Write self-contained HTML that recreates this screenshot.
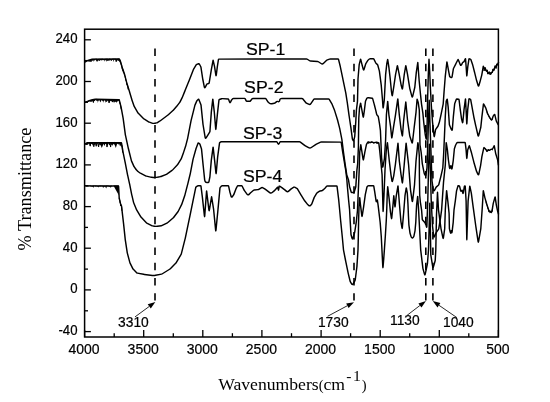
<!DOCTYPE html>
<html><head><meta charset="utf-8"><title>FTIR spectra</title>
<style>
html,body{margin:0;padding:0;background:#fff;}
body{width:550px;height:402px;overflow:hidden;}
svg{display:block;}
.sans{font-family:"Liberation Sans",Arial,Helvetica,sans-serif;fill:#000;stroke:#000;stroke-width:0.2;}
.serif{font-family:"Liberation Serif","Times New Roman",serif;fill:#000;}
.curve{fill:none;stroke:#000;stroke-width:1.45;stroke-linejoin:round;stroke-linecap:round;}
.noise polyline{fill:none;stroke:#000;stroke-width:1.0;stroke-linejoin:miter;}
.dash{stroke:#000;stroke-width:1.6;stroke-dasharray:7.5 7.8;fill:none;}
</style></head><body>
<svg width="550" height="402" viewBox="0 0 550 402">
<rect x="0" y="0" width="550" height="402" fill="#fff"/>
<!-- curves -->
<path class="curve" d="M84.8,62L86.60,61.02Q87,60.8 87.43,60.66L89.57,59.94Q90,59.8 90.43,59.68L92.07,59.22Q92.5,59.1 92.95,59.10L118.85,59.00Q119.3,59 119.52,59.39L119.98,60.21Q120.2,60.6 120.32,61.03L121.68,65.77Q121.8,66.2 121.94,66.63L124.46,74.07Q124.6,74.5 124.71,74.94L126.69,82.56Q126.8,83 126.93,83.43L129.47,91.57Q129.6,92 129.73,92.43L131.67,99.07Q131.8,99.5 131.94,99.93L133.86,105.57Q134,106 134.22,106.39L137.78,112.61Q138,113 138.32,113.32L143.68,118.68Q144,119 144.39,119.23L148.61,121.77Q149,122 149.42,122.15L151.99,123.06Q153.5,123.6 155.06,123.24L156.56,122.90Q157,122.8 157.39,122.57L159.61,121.23Q160,121 160.36,120.73L167.64,115.27Q168,115 168.33,114.70L172.67,110.80Q173,110.5 173.30,110.16L176.70,106.34Q177,106 177.27,105.64L179.73,102.36Q180,102 180.20,101.60L182.30,97.40Q182.5,97 182.67,96.58L184.83,91.12Q185,90.7 185.17,90.28L188.83,81.32Q189,80.9 189.16,80.48L193.24,70.02Q193.4,69.6 193.63,69.21L196.17,64.99Q196.4,64.6 196.82,64.44L198.68,63.76Q199.1,63.6 199.32,64.00L200.68,66.50Q200.9,66.9 200.97,67.34L202.63,78.36Q202.7,78.8 202.79,79.24L204.29,86.93Q204.6,88.5 205.33,87.08L206.70,84.40Q206.9,84 207.33,83.86L208.67,83.44Q209.1,83.3 209.17,82.86L211.23,70.34Q211.3,69.9 211.38,69.46L213.02,60.54Q213.1,60.1 213.20,60.54L214.50,66.46Q214.6,66.9 214.67,67.34L215.86,75.02Q216.1,76.6 216.30,75.01L217.24,67.35Q217.3,66.9 217.37,66.46L218.43,59.54Q218.5,59.1 218.95,59.10L306.55,59.00Q307,59 307.37,59.25L309.63,60.75Q310,61 310.45,61.03L317.55,61.47Q318,61.5 318.38,61.75L321.06,63.52Q322.4,64.4 323.56,63.29L326.67,60.31Q327,60 327.43,59.86L329.57,59.14Q330,59 330.45,59.00L337.95,59.00Q338.4,59 338.51,59.44L339.99,65.26Q340.1,65.7 340.19,66.14L342.81,78.66Q342.9,79.1 342.99,79.54L345.61,92.06Q345.7,92.5 345.77,92.94L347.33,102.96Q347.4,103.4 347.46,103.85L349.04,115.35Q349.1,115.8 349.17,116.24L350.73,126.56Q350.8,127 350.86,127.45L352.34,138.55Q352.4,139 352.58,139.41L352.95,140.25Q353.5,141.5 353.89,139.95L354.59,137.14Q354.7,136.7 354.73,136.25L355.17,130.45Q355.2,130 355.23,129.55L355.77,121.85Q355.8,121.4 355.82,120.95L356.38,110.65Q356.4,110.2 356.45,109.75L357.45,101.65Q357.5,101.2 357.51,100.75L357.99,79.45Q358,79 358.04,78.55L359.16,65.05Q359.2,64.6 359.31,64.16L360.49,59.44Q360.6,59 360.71,59.44L361.89,64.16Q362,64.6 362.11,65.04L363.19,69.15Q363.6,70.7 364.08,69.17L365.76,63.83Q365.9,63.4 366.14,63.02L367.86,60.38Q368.1,60 368.46,59.73L369.44,58.97Q369.8,58.7 370.25,58.70L373.25,58.70Q373.7,58.7 373.90,59.10L375.80,63.00Q376,63.4 376.36,63.67L377.24,64.33Q377.6,64.6 377.72,65.03L379.28,70.67Q379.4,71.1 379.46,71.55L381.14,84.35Q381.2,84.8 381.24,85.25L382.46,99.55Q382.5,100 382.53,100.45L382.99,107.10Q383.1,108.7 383.32,107.12L384.24,100.45Q384.3,100 384.32,99.55L385.58,75.35Q385.6,74.9 385.65,74.45L386.75,64.15Q386.8,63.7 386.89,63.26L387.61,59.74Q387.7,59.3 387.77,59.75L388.83,66.95Q388.9,67.4 388.95,67.85L390.15,78.15Q390.2,78.6 390.24,79.05L391.36,90.55Q391.4,91 391.46,91.45L391.97,95.02Q392.2,96.6 392.45,95.02L393.63,87.74Q393.7,87.3 393.76,86.85L395.44,75.35Q395.5,74.9 395.59,74.46L397.31,65.94Q397.4,65.5 397.49,65.94L399.21,74.46Q399.3,74.9 399.38,75.34L401.02,84.36Q401.1,84.8 401.21,85.24L402.00,88.25Q402.4,89.8 402.59,88.21L404.15,75.35Q404.2,74.9 404.28,74.46L405.72,65.94Q405.8,65.5 405.88,65.94L407.52,74.46Q407.6,74.9 407.67,75.34L409.73,88.16Q409.8,88.6 409.92,89.03L411.88,96.35Q412.3,97.9 412.67,96.34L414.70,87.74Q414.8,87.3 414.85,86.85L416.25,72.85Q416.3,72.4 416.37,71.95L417.73,62.75Q417.8,62.3 417.83,62.75L419.07,79.55Q419.1,80 419.14,80.45L420.46,94.05Q420.5,94.5 420.55,94.95L421.45,103.45Q421.5,103.9 421.57,104.35L422.83,112.95Q422.9,113.4 422.94,113.85L423.76,122.55Q423.8,123 423.86,123.45L425.24,134.55Q425.3,135 425.39,135.44L425.99,138.43Q426.3,140 426.41,138.40L426.97,130.45Q427,130 427.01,129.55L427.59,100.45Q427.6,100 427.61,99.55L428.29,75.45Q428.3,75 428.32,74.55L428.98,59.45Q429,59 429.02,59.45L429.68,71.55Q429.7,72 429.72,72.45L430.38,87.55Q430.4,88 430.42,88.45L431.28,104.55Q431.3,105 431.33,105.45L432.47,121.55Q432.5,122 432.55,122.45L434.03,135.91Q434.2,137.5 434.48,135.92L435.52,129.94Q435.6,129.5 435.86,129.13L437.74,126.47Q438,126.1 438.15,125.67L439.25,122.43Q439.4,122 439.50,121.56L441.20,113.84Q441.3,113.4 441.39,112.96L443.11,104.34Q443.2,103.9 443.23,103.45L444.07,91.65Q444.1,91.2 444.14,90.75L445.26,76.55Q445.3,76.1 445.35,75.65L446.85,62.25Q446.9,61.8 446.98,62.24L448.32,69.46Q448.4,69.9 448.48,70.34L449.62,76.26Q449.7,76.7 450.09,76.93L450.80,77.35Q451.9,78 452.15,76.42L453.33,69.04Q453.4,68.6 453.60,68.20L455.70,64.10Q455.9,63.7 456.10,63.30L457.90,59.70Q458.1,59.3 458.27,59.72L459.43,62.58Q459.6,63 459.77,63.41L460.28,64.62Q460.9,66.1 461.60,64.66L462.50,62.80Q462.7,62.4 463.11,62.21L463.59,61.99Q464,61.8 464.18,61.39L465.32,58.81Q465.5,58.4 465.53,58.85L466.17,66.95Q466.2,67.4 466.23,67.85L466.70,75.10Q466.8,76.7 466.95,75.11L467.66,67.85Q467.7,67.4 467.77,66.95L468.93,59.15Q469,58.7 469.43,58.84L470.37,59.16Q470.8,59.3 470.94,59.73L472.56,64.47Q472.7,64.9 472.81,65.34L474.49,71.96Q474.6,72.4 474.71,72.84L476.29,79.36Q476.4,79.8 476.53,80.23L478.03,85.17Q478.5,86.7 478.96,85.17L480.07,81.53Q480.2,81.1 480.31,80.66L481.69,75.34Q481.8,74.9 481.88,74.46L483.22,66.54Q483.3,66.1 483.44,66.53L483.75,67.50Q484.2,68.9 484.65,68.25L484.84,67.97Q485.1,67.6 485.22,68.04L485.59,69.45Q486,71 486.50,70.55L486.67,70.40Q487,70.1 487.14,70.53L487.51,71.68Q488,73.2 488.75,72.60L489.15,72.28Q489.5,72 489.67,72.42L489.95,73.10Q490.4,74.2 490.85,73.30L491.10,72.80Q491.3,72.4 491.75,72.45L491.75,72.45Q492.2,72.5 492.63,70.96L493.08,69.33Q493.2,68.9 493.40,69.30L493.60,69.70Q494,70.5 494.36,68.94L495.00,66.24Q495.1,65.8 495.31,66.20L495.55,66.65Q496,67.5 496.39,65.95L496.79,64.34Q496.9,63.9 497.16,64.26L497.30,64.45Q497.7,65 498.10,63.70L498.5,62.4"/>
<path class="curve" d="M84.8,102.3L87.57,101.35Q88,101.2 88.43,101.06L91.57,100.04Q92,99.9 92.44,99.80L95.26,99.20Q95.7,99.1 96.15,99.11L118.75,99.79Q119.2,99.8 119.31,100.24L120.89,106.36Q121,106.8 121.08,107.24L123.02,117.56Q123.1,118 123.16,118.45L125.34,134.55Q125.4,135 125.50,135.44L128.10,147.36Q128.2,147.8 128.31,148.24L131.39,160.56Q131.5,161 131.69,161.41L133.81,166.09Q134,166.5 134.26,166.87L135.74,169.03Q136,169.4 136.31,169.73L137.69,171.17Q138,171.5 138.36,171.77L139.64,172.73Q140,173 140.40,173.20L145.60,175.80Q146,176 146.44,176.11L150.56,177.09Q151,177.2 151.45,177.24L153.41,177.44Q155,177.6 156.58,177.36L158.55,177.07Q159,177 159.43,176.88L160.77,176.52Q161.2,176.4 161.62,176.24L166.38,174.36Q166.8,174.2 167.17,173.94L172.03,170.46Q172.4,170.2 172.70,169.87L177.70,164.43Q178,164.1 178.23,163.72L181.17,158.88Q181.4,158.5 181.55,158.08L183.45,152.72Q183.6,152.3 183.74,151.87L185.66,146.03Q185.8,145.6 185.91,145.16L187.39,139.44Q187.5,139 187.59,138.56L191.11,120.44Q191.2,120 191.31,119.56L194.89,105.44Q195,105 195.18,104.59L196.82,100.91Q197,100.5 197.34,100.20L198.36,99.30Q198.7,99 198.86,99.42L200.84,104.58Q201,105 201.05,105.45L202.95,123.85Q203,124.3 203.07,124.74L205.14,137.42Q205.4,139 206.25,137.65L207.36,135.88Q207.6,135.5 207.84,135.12L209.66,132.18Q209.9,131.8 209.93,131.35L211.27,112.85Q211.3,112.4 211.35,111.95L212.75,99.45Q212.8,99 212.85,99.45L214.25,111.55Q214.3,112 214.34,112.45L215.67,128.71Q215.8,130.3 215.96,128.71L217.26,115.45Q217.3,115 217.35,114.55L218.95,100.15Q219,99.7 219.42,99.55L221.58,98.75Q222,98.6 222.45,98.63L228.05,98.97Q228.5,99 228.65,99.43L229.48,101.89Q230,103.4 230.65,101.94L231.32,100.41Q231.5,100 231.82,99.68L232.68,98.82Q233,98.5 233.45,98.50L244.55,98.40Q245,98.4 245.20,98.81L246.20,100.89Q246.4,101.3 246.85,101.30L249.65,101.30Q250.1,101.3 250.38,100.95L252.12,98.75Q252.4,98.4 252.85,98.40L265.35,98.40Q265.8,98.4 266.03,98.78L267.77,101.62Q268,102 268.34,102.30L269.15,103.00Q270.3,104 271.87,103.69L274.36,103.19Q274.8,103.1 275.15,102.82L276.65,101.58Q277,101.3 277.43,101.43L278.15,101.65Q279.3,102 279.65,100.50L279.90,99.44Q280,99 280.42,98.83L281.08,98.57Q281.5,98.4 281.95,98.40L301.95,98.40Q302.4,98.4 302.68,98.75L305.72,102.45Q306,102.8 306.39,103.02L308.60,104.23Q310,105 310.89,103.67L313.75,99.37Q314,99 314.45,99.00L328.55,99.00Q329,99 329.24,99.38L331.46,103.02Q331.7,103.4 331.87,103.82L334.33,109.78Q334.5,110.2 334.64,110.63L337.16,118.67Q337.3,119.1 337.41,119.54L339.49,127.56Q339.6,128 339.69,128.44L341.71,138.56Q341.8,139 341.86,139.45L343.44,151.95Q343.5,152.4 343.56,152.85L345.14,164.25Q345.2,164.7 345.27,165.14L346.73,174.56Q346.8,175 346.94,175.43L348.36,179.57Q348.5,180 348.57,180.44L349.53,186.36Q349.6,186.8 349.73,187.23L351.17,191.97Q351.3,192.4 351.75,192.40L353.65,192.40Q354.1,192.4 354.23,191.97L355.67,187.23Q355.8,186.8 355.83,186.35L356.87,170.45Q356.9,170 356.96,169.55L357.64,164.05Q357.7,163.6 357.72,163.15L358.38,147.25Q358.4,146.8 358.41,146.35L358.59,130.45Q358.6,130 358.61,129.55L358.79,118.45Q358.8,118 358.83,117.55L359.47,108.45Q359.5,108 359.59,107.56L360.51,103.34Q360.6,102.9 360.68,103.34L361.62,108.56Q361.7,109 361.78,109.44L363.02,116.42Q363.3,118 363.52,116.42L364.34,110.65Q364.4,110.2 364.45,109.75L365.45,101.65Q365.5,101.2 365.69,100.79L366.81,98.41Q367,98 367.42,97.85L367.68,97.75Q368.1,97.6 368.54,97.68L372.16,98.32Q372.6,98.4 372.72,98.83L374.18,104.17Q374.3,104.6 374.41,105.04L375.89,110.86Q376,111.3 376.09,111.74L376.61,114.16Q376.7,114.6 377.00,114.94L377.90,115.96Q378.2,116.3 378.28,116.74L379.22,122.06Q379.3,122.5 379.36,122.95L380.34,129.85Q380.4,130.3 380.42,130.75L381.58,157.55Q381.6,158 381.65,158.45L382.53,166.41Q382.7,168 383.00,166.43L384.32,159.44Q384.4,159 384.43,158.55L385.57,140.45Q385.6,140 385.61,139.55L386.39,115.35Q386.4,114.9 386.44,114.45L387.66,101.65Q387.7,101.2 387.74,101.65L388.86,114.45Q388.9,114.9 388.96,115.35L390.44,125.55Q390.5,126 390.55,126.45L391.64,137.11Q391.8,138.7 392.04,137.12L393.63,126.45Q393.7,126 393.77,125.56L395.43,115.34Q395.5,114.9 395.56,114.45L397.74,99.15Q397.8,98.7 397.84,99.15L399.26,114.45Q399.3,114.9 399.35,115.35L401.05,129.35Q401.1,129.8 401.18,130.24L402.11,135.23Q402.4,136.8 402.52,135.20L403.57,121.45Q403.6,121 403.65,120.55L405.75,102.25Q405.8,101.8 405.84,102.25L407.56,120.55Q407.6,121 407.67,121.45L409.73,135.55Q409.8,136 409.94,136.43L411.81,142.18Q412.3,143.7 412.48,142.11L414.15,127.75Q414.2,127.3 414.25,126.85L415.95,112.85Q416,112.4 416.04,111.95L417.06,99.55Q417.1,99.1 417.24,99.53L418.06,102.07Q418.2,102.5 418.27,102.95L419.23,109.55Q419.3,110 419.31,110.45L419.59,124.55Q419.6,125 419.61,125.45L419.99,144.55Q420,145 420.07,145.44L421.13,152.06Q421.2,152.5 421.24,152.95L422.26,163.25Q422.3,163.7 422.39,164.14L424.11,172.96Q424.2,173.4 424.40,173.81L425.00,175.06Q425.7,176.5 425.94,174.92L426.93,168.44Q427,168 427.01,167.55L428.19,130.45Q428.2,130 428.21,129.55L429.19,100.45Q429.2,100 429.21,100.45L430.19,129.55Q430.2,130 430.22,130.45L431.58,169.55Q431.6,170 431.62,170.45L431.98,180.55Q432,181 432.06,181.45L433.04,188.25Q433.1,188.7 433.22,189.13L433.50,190.15Q433.9,191.6 434.62,190.17L435.90,187.60Q436.1,187.2 436.44,186.90L438.36,185.20Q438.7,184.9 438.81,184.46L440.49,177.94Q440.6,177.5 440.70,177.06L442.70,168.44Q442.8,168 442.83,167.55L443.57,155.45Q443.6,155 443.62,154.55L444.48,135.45Q444.5,135 444.52,134.55L445.28,116.45Q445.3,116 445.33,115.55L446.17,101.65Q446.2,101.2 446.38,100.79L447.02,99.31Q447.2,98.9 447.25,99.35L448.15,106.95Q448.2,107.4 448.23,107.85L449.37,124.35Q449.4,124.8 449.57,125.22L450.53,127.58Q450.7,128 450.90,128.40L451.48,129.57Q452.2,131 452.33,129.41L453.36,116.45Q453.4,116 453.45,115.55L454.65,104.15Q454.7,103.7 454.86,103.28L456.34,99.32Q456.5,98.9 456.94,98.97L458.56,99.23Q459,99.3 459.05,99.75L460.25,109.45Q460.3,109.9 460.36,110.35L461.44,118.15Q461.5,118.6 461.61,119.04L462.33,122.04Q462.7,123.6 462.85,122.01L463.96,110.35Q464,109.9 464.06,109.45L465.44,99.15Q465.5,98.7 465.52,99.15L466.18,111.95Q466.2,112.4 466.22,112.85L466.72,123.20Q466.8,124.8 466.90,123.20L467.67,110.35Q467.7,109.9 467.75,109.45L468.95,99.15Q469,98.7 469.42,98.86L470.18,99.14Q470.6,99.3 470.68,99.74L472.02,106.96Q472.1,107.4 472.18,107.84L473.82,116.86Q473.9,117.3 474.00,117.74L475.70,125.56Q475.8,126 475.90,126.44L477.94,135.24Q478.3,136.8 478.71,135.25L480.69,127.74Q480.8,127.3 480.85,126.85L481.95,116.45Q482,116 482.05,115.55L483.45,104.15Q483.5,103.7 483.71,104.10L485.59,107.60Q485.8,108 485.94,108.43L487.46,113.17Q487.6,113.6 487.81,114.00L489.29,116.90Q489.5,117.3 489.76,117.67L490.77,119.10Q491.7,120.4 492.22,118.89L493.05,116.43Q493.2,116 493.49,115.65L494.41,114.55Q494.7,114.2 494.80,114.64L496.20,120.56Q496.3,121 496.50,121.40L498.2,124.8"/>
<path class="curve" d="M84.8,144L86.09,143.39Q86.5,143.2 86.92,143.03L87.58,142.77Q88,142.6 88.45,142.60L121.05,142.80Q121.5,142.8 121.57,143.24L123.03,151.96Q123.1,152.4 123.19,152.84L125.31,163.16Q125.4,163.6 125.49,164.04L127.51,174.56Q127.6,175 127.70,175.44L129.40,183.06Q129.5,183.5 129.59,183.94L131.71,194.56Q131.8,195 131.91,195.44L133.49,202.06Q133.6,202.5 133.77,202.92L136.23,209.08Q136.4,209.5 136.63,209.89L140.67,216.61Q140.9,217 141.21,217.32L146.59,222.88Q146.9,223.2 147.30,223.40L151.70,225.60Q152.1,225.8 152.54,225.88L154.23,226.20Q155.8,226.5 157.38,226.26L161.35,225.67Q161.8,225.6 162.20,225.40L167.40,222.80Q167.8,222.6 168.14,222.30L173.36,217.70Q173.7,217.4 173.97,217.04L177.93,211.76Q178.2,211.4 178.40,211.00L181.70,204.40Q181.9,204 182.04,203.57L184.76,195.43Q184.9,195 185.01,194.56L187.39,185.44Q187.5,185 187.61,184.56L190.19,174.04Q190.3,173.6 190.38,173.16L193.02,159.44Q193.1,159 193.22,158.57L195.78,149.43Q195.9,149 196.06,148.58L198.04,143.22Q198.2,142.8 198.57,143.05L199.43,143.65Q199.8,143.9 199.94,144.33L201.36,148.57Q201.5,149 201.55,149.45L203.15,165.35Q203.2,165.8 203.25,166.25L204.65,179.55Q204.7,180 204.82,180.43L205.05,181.30Q205.4,182.6 207.00,182.51L208.35,182.43Q208.8,182.4 208.89,181.96L209.81,177.24Q209.9,176.8 209.94,176.35L211.26,160.85Q211.3,160.4 211.36,159.95L213.04,147.45Q213.1,147 213.15,147.45L214.55,159.95Q214.6,160.4 214.65,160.85L215.93,173.01Q216.1,174.6 216.24,173.01L217.56,157.85Q217.6,157.4 217.66,156.95L219.54,142.95Q219.6,142.5 220.00,142.30L220.60,142.00Q221,141.8 221.45,141.80L276.55,141.80Q277,141.8 277.19,142.21L277.82,143.55Q278.5,145 279.18,143.55L279.81,142.21Q280,141.8 280.45,141.80L299.55,141.80Q300,141.8 300.36,142.07L304.64,145.33Q305,145.6 305.39,145.82L308.60,147.62Q310,148.4 311.33,147.51L315.63,144.65Q316,144.4 316.41,144.21L320.59,142.19Q321,142 321.45,142.00L340.75,142.10Q341.2,142.1 341.27,142.55L342.33,149.75Q342.4,150.2 342.47,150.64L344.53,163.16Q344.6,163.6 344.68,164.04L345.62,169.56Q345.7,170 345.75,170.45L346.75,178.55Q346.8,179 346.83,179.45L347.37,186.35Q347.4,186.8 347.44,187.25L348.46,198.55Q348.5,199 348.54,199.45L349.56,209.55Q349.6,210 349.62,210.45L350.18,220.75Q350.2,221.2 350.23,221.65L350.97,234.15Q351,234.6 351.12,235.03L351.98,238.16Q352.4,239.7 352.88,238.17L354.56,232.83Q354.7,232.4 354.77,231.96L356.33,221.64Q356.4,221.2 356.44,220.75L357.46,210.45Q357.5,210 357.52,209.55L357.98,198.45Q358,198 358.02,197.55L358.48,187.25Q358.5,186.8 358.52,186.35L359.18,170.45Q359.2,170 359.21,169.55L359.69,152.85Q359.7,152.4 359.76,151.95L360.74,145.05Q360.8,144.6 360.87,145.04L361.93,151.96Q362,152.4 362.07,152.84L363.06,159.22Q363.3,160.8 363.58,159.22L364.72,152.84Q364.8,152.4 364.89,151.96L366.31,145.04Q366.4,144.6 366.63,144.22L367.87,142.18Q368.1,141.8 368.51,141.97L369.05,142.20Q370,142.6 371.00,142.25L371.58,142.05Q372,141.9 372.41,142.08L373.00,142.35Q374,142.8 375.00,142.50L375.57,142.33Q376,142.2 376.44,142.31L378.36,142.79Q378.8,142.9 378.85,143.35L379.85,151.95Q379.9,152.4 379.94,152.85L380.96,163.15Q381,163.6 381.04,164.05L382.06,174.55Q382.1,175 382.11,175.45L382.69,197.55Q382.7,198 382.71,198.45L383.06,210.70Q383.1,212.3 383.18,210.70L383.98,195.45Q384,195 384.02,194.55L384.98,170.45Q385,170 385.03,169.55L386.27,150.45Q386.3,150 386.36,149.55L387.34,142.85Q387.4,142.4 387.45,142.85L389.25,160.55Q389.3,161 389.35,161.45L390.95,174.55Q391,175 391.07,175.44L391.94,180.82Q392.2,182.4 392.57,180.84L393.60,176.44Q393.7,176 393.76,175.55L395.44,164.05Q395.5,163.6 395.55,163.15L397.95,143.45Q398,143 398.03,143.45L399.27,160.55Q399.3,161 399.36,161.45L401.04,174.55Q401.1,175 401.17,175.45L402.16,182.12Q402.4,183.7 402.55,182.11L404.16,165.25Q404.2,164.8 404.24,164.35L406.06,143.45Q406.1,143 406.15,143.45L408.55,164.35Q408.6,164.8 408.63,165.25L410.47,189.55Q410.5,190 410.57,190.44L412.16,200.82Q412.4,202.4 412.59,200.81L414.45,185.45Q414.5,185 414.53,184.55L415.97,161.45Q416,161 416.05,160.55L417.85,142.85Q417.9,142.4 417.97,142.84L418.53,146.56Q418.6,147 418.63,147.45L419.27,155.55Q419.3,156 419.30,156.45L419.40,174.55Q419.4,175 419.41,175.45L419.69,194.55Q419.7,195 419.74,195.45L420.36,202.05Q420.4,202.5 420.47,202.94L421.53,209.56Q421.6,210 421.63,210.45L422.27,219.15Q422.3,219.6 422.59,219.94L424.61,222.26Q424.9,222.6 425.09,223.01L425.81,224.59Q426,225 426.12,225.43L426.40,226.50Q426.8,228 426.86,226.40L427.78,200.45Q427.8,200 427.81,199.55L428.59,165.45Q428.6,165 428.62,164.55L429.38,144.45Q429.4,144 429.42,144.45L430.18,164.55Q430.2,165 430.21,165.45L431.19,199.55Q431.2,200 431.22,200.45L432.48,225.55Q432.5,226 432.55,226.45L433.71,236.31Q433.9,237.9 434.52,236.43L435.92,233.11Q436.1,232.7 436.36,232.33L438.44,229.37Q438.7,229 438.77,228.56L440.13,220.44Q440.2,220 440.26,219.55L441.54,210.45Q441.6,210 441.63,209.55L443.47,182.85Q443.5,182.4 443.55,181.95L445.25,165.45Q445.3,165 445.32,164.55L446.18,142.85Q446.2,142.4 446.27,142.84L447.33,149.46Q447.4,149.9 447.45,150.35L448.35,159.35Q448.4,159.8 448.46,160.25L449.48,167.62Q449.7,169.2 450.18,167.67L450.76,165.83Q450.9,165.4 451.00,165.84L451.55,168.24Q451.9,169.8 452.13,168.22L453.13,161.45Q453.2,161 453.24,160.55L454.36,149.05Q454.4,148.6 454.55,148.18L455.55,145.32Q455.7,144.9 455.92,144.51L456.88,142.79Q457.1,142.4 457.55,142.40L464.75,142.40Q465.2,142.4 465.25,142.85L466.05,149.45Q466.1,149.9 466.13,150.35L466.68,157.60Q466.8,159.2 466.95,157.61L467.66,150.35Q467.7,149.9 467.85,149.48L469.15,145.92Q469.3,145.5 469.43,145.93L471.27,151.97Q471.4,152.4 471.51,152.84L473.79,161.86Q473.9,162.3 474.02,162.73L476.28,170.57Q476.4,171 476.59,171.41L477.84,174.14Q478.5,175.6 478.83,174.03L480.41,166.44Q480.5,166 480.57,165.55L481.93,156.45Q482,156 482.10,155.56L483.80,147.84Q483.9,147.4 484.22,147.72L485.48,148.98Q485.8,149.3 486.05,149.67L486.40,150.20Q487,151.1 487.60,150.35L487.92,149.95Q488.2,149.6 488.58,149.84L488.85,150.00Q489.5,150.4 490.25,149.80L490.65,149.48Q491,149.2 491.45,149.23L491.80,149.25Q492.6,149.3 493.22,147.83L494.03,145.91Q494.2,145.5 494.28,145.94L495.62,153.16Q495.7,153.6 495.83,154.03L497.47,159.37Q497.6,159.8 497.67,160.24L498.4,164.8"/>
<path class="curve" d="M84.8,185.9L118.15,186.00Q118.6,186 118.62,186.45L119.18,197.55Q119.2,198 119.30,198.44L120.50,203.56Q120.6,204 120.78,204.41L121.32,205.59Q121.5,206 121.55,206.45L123.65,224.45Q123.7,224.9 123.75,225.35L125.25,239.55Q125.3,240 125.37,240.44L127.23,252.56Q127.3,253 127.42,253.43L129.88,262.57Q130,263 130.20,263.40L132.80,268.60Q133,269 133.32,269.32L136.68,272.68Q137,273 137.44,273.09L143.56,274.31Q144,274.4 144.45,274.45L152.41,275.41Q154,275.6 155.57,275.29L161.56,274.09Q162,274 162.38,273.76L169.62,269.24Q170,269 170.32,268.68L175.68,263.32Q176,263 176.23,262.61L180.97,254.69Q181.2,254.3 181.31,253.86L185.09,238.94Q185.2,238.5 185.29,238.06L189.51,217.94Q189.6,217.5 189.69,217.06L193.91,196.44Q194,196 194.09,195.56L195.71,187.64Q195.8,187.2 196.17,186.95L197.63,185.95Q198,185.7 198.45,185.70L200.45,185.70Q200.9,185.7 200.96,186.15L202.34,196.95Q202.4,197.4 202.45,197.85L204.43,215.91Q204.6,217.5 204.72,215.90L206.57,191.15Q206.6,190.7 206.65,191.15L208.91,210.01Q209.1,211.6 209.36,210.02L211.53,197.04Q211.6,196.6 211.67,197.04L213.53,208.86Q213.6,209.3 213.64,209.75L215.64,230.11Q215.8,231.7 215.96,230.11L217.96,209.75Q218,209.3 218.04,208.85L219.96,188.15Q220,187.7 220.30,187.37L221.50,186.03Q221.8,185.7 222.25,185.70L228.05,185.70Q228.5,185.7 228.60,186.14L229.90,192.06Q230,192.5 230.12,192.93L231.06,196.26Q231.5,197.8 232.45,196.51L233.43,195.16Q233.7,194.8 233.86,194.38L235.84,189.22Q236,188.8 236.20,188.40L237.30,186.20Q237.5,185.8 237.95,185.80L241.55,185.80Q242,185.8 242.20,186.20L244.00,189.90Q244.2,190.3 244.46,190.67L246.97,194.20Q247.9,195.5 249.03,194.37L250.58,192.82Q250.9,192.5 251.25,192.21L253.55,190.29Q253.9,190 254.35,189.96L257.95,189.64Q258.4,189.6 258.78,189.36L261.72,187.54Q262.1,187.3 262.49,187.53L264.71,188.87Q265.1,189.1 265.46,189.37L269.73,192.63Q271,193.6 272.21,192.55L274.46,190.60Q274.8,190.3 275.10,189.97L277.50,187.33Q277.8,187 277.88,187.44L278.22,189.42Q278.5,191 278.72,189.42L279.14,186.45Q279.2,186 279.59,186.22L281.11,187.08Q281.5,187.3 281.86,187.57L284.14,189.33Q284.5,189.6 284.84,189.89L286.29,191.15Q287.5,192.2 288.68,191.12L290.87,189.10Q291.2,188.8 291.59,188.57L293.81,187.23Q294.2,187 294.60,187.20L296.80,188.30Q297.2,188.5 297.43,188.89L300.67,194.41Q300.9,194.8 301.14,195.18L304.36,200.32Q304.6,200.7 304.88,201.05L307.32,204.15Q307.6,204.5 307.95,204.78L308.65,205.35Q309.7,206.2 310.70,205.15L311.39,204.43Q311.7,204.1 311.86,203.68L314.14,197.62Q314.3,197.2 314.54,196.82L316.76,193.18Q317,192.8 317.38,192.55L319.22,191.35Q319.6,191.1 320.04,191.03L321.76,190.77Q322.2,190.7 322.54,190.41L324.46,188.79Q324.8,188.5 325.08,188.15L326.62,186.25Q326.9,185.9 327.35,185.90L336.55,185.90Q337,185.9 337.05,186.35L338.65,199.35Q338.7,199.8 338.74,200.25L340.66,220.75Q340.7,221.2 340.75,221.65L342.35,237.55Q342.4,238 342.44,238.45L343.46,249.55Q343.5,250 343.59,250.44L345.61,260.76Q345.7,261.2 345.79,261.64L347.91,271.96Q348,272.4 348.11,272.84L350.09,280.96Q350.2,281.4 350.42,281.79L351.61,283.91Q352.4,285.3 353.17,283.90L354.98,280.59Q355.2,280.2 355.26,279.75L356.84,267.25Q356.9,266.8 356.93,266.35L357.97,250.45Q358,250 358.01,249.55L358.29,238.45Q358.3,238 358.31,237.55L358.59,221.65Q358.6,221.2 358.61,220.75L358.99,207.45Q359,207 359.03,206.55L359.67,197.85Q359.7,197.4 359.75,197.85L360.45,204.55Q360.5,205 360.55,205.45L361.81,215.71Q362,217.3 362.25,215.72L363.53,207.44Q363.6,207 363.66,206.55L365.24,195.05Q365.3,194.6 365.40,194.16L366.90,187.24Q367,186.8 367.32,186.48L367.78,186.02Q368.1,185.7 368.55,185.70L373.25,185.70Q373.7,185.7 373.77,186.14L374.73,191.96Q374.8,192.4 374.87,192.85L376.06,200.92Q376.3,202.5 376.80,201.10L377.15,200.12Q377.3,199.7 377.36,200.15L378.14,205.45Q378.2,205.9 378.25,206.35L380.15,222.25Q380.2,222.7 380.23,223.15L381.27,236.55Q381.3,237 381.32,237.45L382.18,254.55Q382.2,255 382.22,255.45L382.82,267.00Q382.9,268.6 383.04,267.01L383.76,258.45Q383.8,258 383.83,257.55L384.47,248.45Q384.5,248 384.53,247.55L385.37,235.45Q385.4,235 385.43,234.55L386.27,220.45Q386.3,220 386.32,219.55L386.78,208.45Q386.8,208 386.81,207.55L387.19,195.45Q387.2,195 387.23,194.55L387.67,186.95Q387.7,186.5 387.75,186.95L389.15,198.95Q389.2,199.4 389.25,199.85L390.45,211.85Q390.5,212.3 390.57,212.74L391.36,217.92Q391.6,219.5 391.75,217.91L392.86,206.35Q392.9,205.9 392.94,205.45L393.76,195.95Q393.8,195.5 393.84,195.95L394.84,206.21Q395,207.8 395.17,206.21L396.25,195.95Q396.3,195.5 396.38,195.06L397.92,186.24Q398,185.8 398.04,186.25L399.56,205.45Q399.6,205.9 399.64,206.35L400.86,220.95Q400.9,221.4 400.97,221.84L401.94,227.62Q402.2,229.2 402.34,227.61L403.66,212.75Q403.7,212.3 403.73,211.85L404.97,195.95Q405,195.5 405.07,195.06L406.23,188.24Q406.3,187.8 406.38,188.24L407.22,192.56Q407.3,193 407.33,193.45L407.97,204.55Q408,205 408.02,205.45L408.38,214.55Q408.4,215 408.42,215.45L408.88,224.55Q408.9,225 408.96,225.45L409.94,232.55Q410,233 410.13,233.43L411.17,236.87Q411.3,237.3 411.66,237.57L411.95,237.80Q412.6,238.3 413.20,237.40L413.55,236.87Q413.8,236.5 413.90,236.06L414.90,231.44Q415,231 415.04,230.55L415.76,222.45Q415.8,222 415.82,221.55L416.18,213.45Q416.2,213 416.22,212.55L416.58,205.45Q416.6,205 416.66,204.55L417.64,196.65Q417.7,196.2 417.73,196.65L418.57,209.55Q418.6,210 418.62,210.45L420.68,249.55Q420.7,250 420.75,250.45L422.85,267.95Q422.9,268.4 423.02,268.83L424.48,274.16Q424.9,275.7 425.23,274.14L427.31,264.44Q427.4,264 427.44,263.55L428.46,250.45Q428.5,250 428.51,249.55L429.19,225.45Q429.2,225 429.21,224.55L429.79,203.45Q429.8,203 429.81,203.45L430.29,224.55Q430.3,225 430.31,225.45L430.79,254.55Q430.8,255 430.87,255.44L432.74,266.82Q433,268.4 433.43,266.86L435.08,261.03Q435.2,260.6 435.23,260.15L435.77,250.45Q435.8,250 435.81,249.55L436.49,215.45Q436.5,215 436.52,214.55L437.48,192.45Q437.5,192 437.52,192.45L438.48,209.55Q438.5,210 438.56,210.45L440.94,228.25Q441,228.7 441.09,229.14L442.87,237.63Q443.2,239.2 443.43,237.62L444.64,229.15Q444.7,228.7 444.71,228.25L445.29,210.45Q445.3,210 445.33,209.55L446.57,190.95Q446.6,190.5 446.65,190.95L447.75,200.55Q447.8,201 447.85,201.45L449.05,213.05Q449.1,213.5 449.11,213.95L449.39,228.25Q449.4,228.7 449.51,229.14L450.32,232.45Q450.7,234 450.97,232.42L451.22,230.94Q451.3,230.5 451.39,230.94L451.60,232.00Q451.9,233.5 452.09,231.91L453.15,222.85Q453.2,222.4 453.23,221.95L453.97,210.45Q454,210 454.06,209.55L455.24,201.45Q455.3,201 455.35,200.55L456.45,191.55Q456.5,191.1 456.62,190.67L457.98,185.93Q458.1,185.5 458.51,185.69L459.19,186.01Q459.6,186.2 459.70,186.64L460.54,190.24Q460.9,191.8 461.50,190.85L461.86,190.28Q462.1,189.9 462.20,190.34L462.75,192.74Q463.1,194.3 463.35,192.72L464.33,186.64Q464.4,186.2 464.80,186.05L464.80,186.05Q465.2,185.9 465.23,186.35L466.07,200.55Q466.1,201 466.11,201.45L466.77,238.90Q466.8,240.5 466.85,238.90L468.09,201.45Q468.1,201 468.15,200.55L469.75,186.35Q469.8,185.9 469.89,186.34L471.31,193.16Q471.4,193.6 471.46,194.05L473.24,207.55Q473.3,208 473.36,208.45L475.74,225.75Q475.8,226.2 475.87,226.65L478.06,241.42Q478.3,243 478.58,241.42L480.72,229.14Q480.8,228.7 480.83,228.25L482.27,207.75Q482.3,207.3 482.33,206.85L483.27,190.95Q483.3,190.5 483.40,190.94L484.70,196.96Q484.8,197.4 484.92,197.83L486.28,202.57Q486.4,203 486.54,203.43L488.06,208.17Q488.2,208.6 488.33,209.03L488.72,210.27Q489.2,211.8 489.65,211.40L489.76,211.30Q490.1,211 490.30,211.40L490.55,211.90Q491,212.8 491.50,211.90L491.78,211.39Q492,211 492.07,210.56L493.13,204.04Q493.2,203.6 493.32,203.17L494.98,197.13Q495.1,196.7 495.17,197.15L496.23,204.35Q496.3,204.8 496.39,205.24L497.51,210.56Q497.6,211 497.73,211.43L498.5,214"/>
<!-- noise -->
<g class="noise">
<polyline points="88,60.41 88.6,61.33 89.2,59.92 89.8,61.56 90.4,59.48 91.0,61.78 91.6,59.23 92.2,60.66 92.8,58.94 93.4,59.61 94.0,58.88 94.6,60.12 95.2,58.92 95.8,59.48 96.4,58.94 97.0,61.26 97.6,58.96 98.2,60.39 98.8,58.9 99.4,60.66 100.0,58.87 100.6,59.99 101.2,58.85 101.8,60.24 102.4,58.82 103.0,59.97 103.6,58.98 104.2,60.07 104.8,58.97 105.4,60.17 106.0,58.82 106.6,60.3 107.2,58.83 107.8,60.73 108.4,59.0 109.0,60.54 109.6,58.81 110.2,60.13 110.8,58.98 111.4,60.49 112.0,58.96 112.6,59.41 113.2,58.78 113.8,59.44 114.4,58.92 115.0,59.53 115.6,58.82 116.2,61.71 116.8,59.0 117.4,60.31 118.0,58.78 118.6,60.68 119.2,58.75 119.8,61.78 120.4,61.29 121.0,63.98 121.6,65.35 122.2,69.36 122.8,69.09 123.4,72.58 124.0,72.63 124.6,75.44 125.2,76.66 125.8,80.27 126.4,81.3 127.0,85.26 127.6,85.46 128.2,89.64"/>
<polyline points="88,101.14 88.6,101.48 89.2,100.77 89.8,101.03 90.4,100.19 91.0,101.89 91.6,99.97 92.2,101.07 92.8,99.68 93.4,102.53 94.0,99.26 94.6,101.01 95.2,99.16 95.8,99.93 96.4,98.94 97.0,100.89 97.6,99.13 98.2,100.5 98.8,99.07 99.4,99.81 100.0,99.21 100.6,101.13 101.2,99.13 101.8,100.09 102.4,99.16 103.0,101.12 103.6,99.21 104.2,100.36 104.8,99.26 105.4,99.96 106.0,99.2 106.6,101.61 107.2,99.37 107.8,100.67 108.4,99.39 109.0,102.86 109.6,99.46 110.2,100.91 110.8,99.46 111.4,101.14 112.0,99.45 112.6,102.07 113.2,99.56 113.8,101.24 114.4,99.6 115.0,102.0 115.6,99.68 116.2,101.2 116.8,99.49 117.4,101.3 118.0,99.76 118.6,100.57 119.2,99.61 119.8,103.13 120.4,104.31 121.0,108.49 121.6,109.95"/>
<polyline points="86,143.28 86.6,144.72 87.2,142.68 87.8,144.24 88.4,142.6 89.0,143.7 89.6,142.45 90.2,146.12 90.8,142.56 91.4,143.84 92.0,142.62 92.6,143.3 93.2,142.4 93.8,146.73 94.4,142.6 95.0,144.5 95.6,142.43 96.2,146.26 96.8,142.43 97.4,143.45 98.0,142.52 98.6,146.97 99.2,142.49 99.8,144.61 100.4,142.6 101.0,144.46 101.6,142.66 102.2,143.5 102.8,142.69 103.4,144.14 104.0,142.62 104.6,144.39 105.2,142.62 105.8,143.82 106.4,142.7 107.0,147.05 107.6,142.51 108.2,143.05 108.8,142.63 109.4,144.63 110.0,142.69 110.6,147.05 111.2,142.51 111.8,144.64 112.4,142.66 113.0,143.94 113.6,142.73 114.2,144.33 114.8,142.55 115.4,143.13 116.0,142.74 116.6,143.65 117.2,142.54 117.8,143.66 118.4,142.65 119.0,143.62 119.6,142.74 120.2,145.45 120.8,142.55 121.4,146.34 122.0,145.67 122.6,152.37 123.2,152.68"/>
<polyline points="86,185.71 86.6,186.37 87.2,185.84 87.8,186.21 88.4,185.79 89.0,186.36 89.6,185.72 90.2,186.27 90.8,185.74 91.4,186.3 92.0,185.75 92.6,186.26 93.2,185.72 93.8,186.28 94.4,185.76 95.0,186.4 95.6,185.91 96.2,186.39 96.8,185.82 97.4,186.26 98.0,185.78 98.6,186.3 99.2,185.8 99.8,186.28 100.4,185.86 101.0,186.43 101.6,185.82 102.2,186.38 102.8,185.75 103.4,187.31 104.0,185.81 104.6,186.32 105.2,185.94 105.8,186.44 106.4,185.93 107.0,186.4 107.6,185.92 108.2,186.37 108.8,185.92 109.4,186.45 110.0,185.97 110.6,187.26 111.2,185.75 111.8,186.4"/>
<polyline points="119.2,197.92 119.5,199.81 119.8,200.55 120.1,202.96 120.4,203.13 120.7,206.0 121.0,204.87 121.3,205.99 121.6,206.65 121.9,210.74"/>
<g fill="#000" stroke="none">
<polygon points="92.83,59.30 94.86,59.29 93.83,61.66"/><polygon points="96.06,59.29 98.22,59.28 97.15,61.85"/><polygon points="100.22,59.27 101.71,59.27 100.89,60.87"/><polygon points="103.68,59.26 104.97,59.25 104.17,61.81"/><polygon points="106.10,59.25 107.35,59.24 106.87,62.04"/><polygon points="110.37,59.23 112.30,59.23 111.23,60.87"/><polygon points="113.01,59.22 114.35,59.22 113.60,61.96"/><polygon points="115.00,59.22 117.19,59.21 116.35,60.96"/><polygon points="119.01,59.20 120.87,63.15 119.93,62.35"/><polygon points="121.91,66.72 123.15,70.41 122.37,71.20"/><polygon points="126.31,81.30 127.76,86.28 127.27,86.71"/>
<polygon points="91.67,100.21 93.03,99.88 92.65,101.87"/><polygon points="92.99,99.89 94.33,99.60 93.57,102.71"/><polygon points="97.20,99.34 98.68,99.39 97.83,102.89"/><polygon points="99.07,99.40 101.38,99.47 100.48,102.47"/><polygon points="102.67,99.51 103.93,99.55 103.36,102.91"/><polygon points="104.66,99.57 106.08,99.61 105.42,102.92"/><polygon points="108.43,99.68 110.56,99.74 109.53,103.24"/><polygon points="110.91,99.75 112.84,99.81 112.15,102.05"/><polygon points="112.90,99.81 115.03,99.88 114.06,103.36"/><polygon points="115.39,99.89 117.58,99.95 116.30,102.92"/><polygon points="118.25,99.97 120.08,103.44 119.42,101.86"/>
<polygon points="89.12,142.81 91.46,142.82 90.04,146.58"/><polygon points="91.64,142.82 93.35,142.83 92.28,145.79"/><polygon points="93.70,142.83 95.43,142.84 94.54,145.13"/><polygon points="96.45,142.85 97.76,142.86 97.06,146.22"/><polygon points="99.92,142.87 102.00,142.88 100.70,145.47"/><polygon points="103.43,142.89 105.34,142.90 104.45,146.15"/><polygon points="106.82,142.91 108.45,142.92 107.56,146.39"/><polygon points="108.71,142.92 110.70,142.94 109.46,145.42"/><polygon points="111.35,142.94 113.42,142.95 112.35,146.04"/><polygon points="114.89,142.96 116.31,142.97 115.49,145.16"/><polygon points="118.11,142.98 119.54,142.99 118.58,145.04"/><polygon points="119.37,142.99 120.90,143.00 120.33,146.05"/>
<polygon points="92.09,186.12 94.29,186.13 93.49,187.66"/><polygon points="97.28,186.14 99.29,186.14 98.44,187.56"/><polygon points="105.02,186.16 107.07,186.17 106.21,188.40"/>
<polygon points="484.09,68.77 485.84,70.58 484.79,70.24"/><polygon points="487.35,71.39 488.86,72.71 488.38,74.76"/><polygon points="488.81,72.75 490.06,73.56 489.49,74.08"/><polygon points="490.78,73.64 492.33,72.24 491.56,74.86"/><polygon points="494.23,69.71 495.73,67.19 494.79,68.73"/><polygon points="495.91,67.54 497.29,64.64 496.89,66.79"/>
<polygon points="487.79,207.51 488.91,211.06 488.41,210.47"/><polygon points="488.65,210.23 490.11,211.22 489.10,213.60"/><polygon points="491.61,211.91 492.91,205.60 492.53,211.25"/>
<polygon points="486.70,150.85 488.12,149.90 487.23,152.35"/><polygon points="488.04,150.00 489.54,150.57 488.71,151.23"/><polygon points="491.79,149.45 492.90,148.78 492.34,151.01"/>
</g>
<polygon points="113.4,185.6 118.8,185.6 118.8,195.2" fill="#000" stroke="none"/>
<polygon points="99.5,142.4 104,142.4 101.8,148" fill="#000" stroke="none"/>
<polygon points="113.8,142.4 117.6,142.4 115.8,148" fill="#000" stroke="none"/>
<polyline points="483.5,66.67 484.1,70.99 484.7,68.16 485.3,68.98 485.9,70.57 486.5,71.68 487.1,70.3 487.7,74.13 488.3,72.94 488.9,73.72 489.5,71.9 490.1,74.94 490.7,73.57 491.3,73.04 491.9,72.45 492.5,72.53 493.1,69.09 493.7,70.64 494.3,69.09 494.9,67.8 495.5,66.41 496.1,68.56 496.7,64.58 497.3,65.0 497.9,64.21"/>
<polyline points="368,141.85 368.6,143.47 369.2,142.26 369.8,143.12 370.4,142.44 371.0,142.88 371.6,142.03 372.2,142.52 372.8,142.15 373.4,143.27 374.0,142.74 374.6,142.99 375.2,142.21 375.8,142.91 376.4,142.2 377.0,143.84 377.6,142.43 378.2,143.49 378.8,142.88"/>
<polyline points="485,148.36 485.6,149.74 486.2,149.85 486.8,151.75 487.4,150.44 488.0,150.28 488.6,149.76 489.2,150.72 489.8,149.91 490.4,150.02 491.0,149.05 491.6,149.84 492.2,149.11 492.8,149.49"/>
<polyline points="486,201.49 486.6,204.43 487.2,205.37 487.8,208.11 488.4,209.19 489.0,211.92 489.6,211.25 490.2,211.58 490.8,212.38 491.4,213.11 492.0,210.99 492.6,208.48"/>
<polyline points="487,111.61 487.6,114.23 488.2,114.73 488.8,116.24 489.4,117.04 490.0,118.71 490.6,118.7 491.2,120.27 491.8,120.07 492.4,118.87"/>
</g>
<!-- dashed markers -->
<line class="dash" x1="155" y1="48.5" x2="155" y2="300.5"/>
<line class="dash" x1="354" y1="48.5" x2="354" y2="300.5"/>
<line class="dash" x1="425.8" y1="48.5" x2="425.8" y2="300.5"/>
<line class="dash" x1="432.9" y1="48.5" x2="432.9" y2="300.5"/>
<!-- frame -->
<rect x="84.6" y="29.2" width="413.8" height="307.8" fill="none" stroke="#000" stroke-width="1.5"/>
<g stroke="#000" stroke-width="1.3">
<line x1="84.6" y1="337.0" x2="84.6" y2="330.0"/><line x1="114.2" y1="337.0" x2="114.2" y2="333.2"/><line x1="143.7" y1="337.0" x2="143.7" y2="330.0"/><line x1="173.3" y1="337.0" x2="173.3" y2="333.2"/><line x1="202.8" y1="337.0" x2="202.8" y2="330.0"/><line x1="232.4" y1="337.0" x2="232.4" y2="333.2"/><line x1="261.9" y1="337.0" x2="261.9" y2="330.0"/><line x1="291.5" y1="337.0" x2="291.5" y2="333.2"/><line x1="321.1" y1="337.0" x2="321.1" y2="330.0"/><line x1="350.6" y1="337.0" x2="350.6" y2="333.2"/><line x1="380.2" y1="337.0" x2="380.2" y2="330.0"/><line x1="409.7" y1="337.0" x2="409.7" y2="333.2"/><line x1="439.3" y1="337.0" x2="439.3" y2="330.0"/><line x1="468.8" y1="337.0" x2="468.8" y2="333.2"/><line x1="498.4" y1="337.0" x2="498.4" y2="330.0"/><line x1="84.6" y1="331.6" x2="90.9" y2="331.6"/><line x1="84.6" y1="310.8" x2="88.0" y2="310.8"/><line x1="84.6" y1="289.9" x2="90.9" y2="289.9"/><line x1="84.6" y1="269.1" x2="88.0" y2="269.1"/><line x1="84.6" y1="248.2" x2="90.9" y2="248.2"/><line x1="84.6" y1="227.4" x2="88.0" y2="227.4"/><line x1="84.6" y1="206.6" x2="90.9" y2="206.6"/><line x1="84.6" y1="185.7" x2="88.0" y2="185.7"/><line x1="84.6" y1="164.9" x2="90.9" y2="164.9"/><line x1="84.6" y1="144.0" x2="88.0" y2="144.0"/><line x1="84.6" y1="123.2" x2="90.9" y2="123.2"/><line x1="84.6" y1="102.3" x2="88.0" y2="102.3"/><line x1="84.6" y1="81.5" x2="90.9" y2="81.5"/><line x1="84.6" y1="60.6" x2="88.0" y2="60.6"/><line x1="84.6" y1="39.8" x2="90.9" y2="39.8"/>
</g>
<g class="sans" font-size="14">
<text x="84.1" y="354.4" text-anchor="middle">4000</text><text x="143.2" y="354.4" text-anchor="middle">3500</text><text x="202.3" y="354.4" text-anchor="middle">3000</text><text x="261.4" y="354.4" text-anchor="middle">2500</text><text x="320.6" y="354.4" text-anchor="middle">2000</text><text x="379.7" y="354.4" text-anchor="middle">1500</text><text x="438.8" y="354.4" text-anchor="middle">1000</text><text x="497.9" y="354.4" text-anchor="middle">500</text>
</g>
<g class="sans" font-size="13.9">
<text transform="translate(77.5,335.1) scale(0.95,1)" text-anchor="end">-40</text><text transform="translate(77.5,293.4) scale(0.95,1)" text-anchor="end">0</text><text transform="translate(77.5,251.8) scale(0.95,1)" text-anchor="end">40</text><text transform="translate(77.5,210.1) scale(0.95,1)" text-anchor="end">80</text><text transform="translate(77.5,168.4) scale(0.95,1)" text-anchor="end">120</text><text transform="translate(77.5,126.7) scale(0.95,1)" text-anchor="end">160</text><text transform="translate(77.5,85.0) scale(0.95,1)" text-anchor="end">200</text><text transform="translate(77.5,43.3) scale(0.95,1)" text-anchor="end">240</text>
</g>
<g class="sans" font-size="13.8">
<text x="118.1" y="327">3310</text>
<text x="317.9" y="326.9">1730</text>
<text x="390" y="325.2">1130</text>
<text x="443" y="326.8">1040</text>
</g>
<line x1="135" y1="316.9" x2="149.3" y2="306.4" stroke="#111" stroke-width="0.9"/><polygon points="155.3,302 150.8,308.5 147.7,304.3" fill="#000"/>
<line x1="327.6" y1="316.3" x2="347.4" y2="305.7" stroke="#111" stroke-width="0.9"/><polygon points="354,302.2 348.6,308.0 346.2,303.4" fill="#000"/>
<line x1="407.1" y1="315.3" x2="419.9" y2="305.5" stroke="#111" stroke-width="0.9"/><polygon points="425.9,301 421.5,307.6 418.4,303.5" fill="#000"/>
<line x1="457" y1="317.7" x2="439.0" y2="305.3" stroke="#111" stroke-width="0.9"/><polygon points="432.8,301 440.4,303.1 437.5,307.4" fill="#000"/>
<g class="sans" font-size="16.5">
<text transform="translate(245.9,54.7) scale(1.075,1)">SP-1</text>
<text transform="translate(244.1,93.2) scale(1.075,1)">SP-2</text>
<text transform="translate(242.9,138.9) scale(1.075,1)">SP-3</text>
<text transform="translate(242.9,181.7) scale(1.075,1)">SP-4</text>
</g>
<text class="serif" font-size="17.65" x="218.2" y="390.3">Wavenumbers<tspan font-size="14.5">(</tspan>cm<tspan dy="-9.2" dx="1.2" font-size="15.6" letter-spacing="1.6">-1</tspan><tspan dy="9.2" dx="-0.8" font-size="14.5">)</tspan></text>
<text class="serif" font-size="18.2" transform="translate(30.8,189) rotate(-90)" text-anchor="middle">% Transmittance</text>
</svg>
</body></html>
